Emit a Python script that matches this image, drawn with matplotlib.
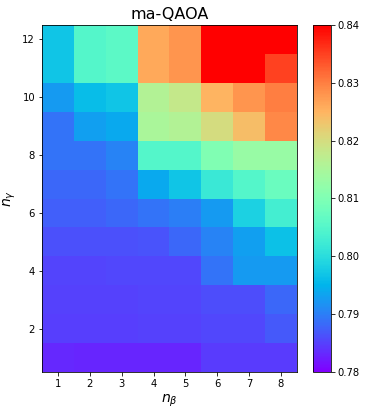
import numpy as np
import matplotlib
matplotlib.use("Agg")
import matplotlib.pyplot as plt

n_beta = [1, 2, 3, 4, 5, 6, 7, 8]
n_gamma = [1, 2, 3, 4, 5, 6, 7, 8, 9, 10, 11, 12]

# rows: n_gamma = 1 .. 12, columns: n_beta = 1 .. 8
ratio = [
    [0.7832, 0.7830, 0.7830, 0.7830, 0.7830, 0.7845, 0.7845, 0.7845],
    [0.7848, 0.7848, 0.7848, 0.7850, 0.7850, 0.7855, 0.7855, 0.7870],
    [0.7850, 0.7850, 0.7850, 0.7852, 0.7852, 0.7860, 0.7860, 0.7880],
    [0.7852, 0.7852, 0.7855, 0.7855, 0.7855, 0.7890, 0.7925, 0.7925],
    [0.7862, 0.7862, 0.7862, 0.7865, 0.7880, 0.7905, 0.7930, 0.7965],
    [0.7875, 0.7875, 0.7880, 0.7890, 0.7900, 0.7925, 0.7985, 0.8030],
    [0.7880, 0.7880, 0.7890, 0.7940, 0.7970, 0.8020, 0.8050, 0.8075],
    [0.7890, 0.7890, 0.7905, 0.8050, 0.8050, 0.8100, 0.8130, 0.8130],
    [0.7890, 0.7930, 0.7940, 0.8150, 0.8160, 0.8200, 0.8240, 0.8290],
    [0.7925, 0.7960, 0.7970, 0.8160, 0.8180, 0.8250, 0.8280, 0.8300],
    [0.7970, 0.8050, 0.8060, 0.8260, 0.8280, 0.8410, 0.8410, 0.8350],
    [0.7970, 0.8050, 0.8060, 0.8260, 0.8280, 0.8410, 0.8410, 0.8410],
]

fig = plt.figure(figsize=(366 / 72, 417 / 72), dpi=72)
ax = fig.add_axes([0.115, 0.108, 0.696, 0.832])
cax = fig.add_axes([0.855, 0.108, 0.049, 0.832])

im = ax.imshow(np.array(ratio), cmap="rainbow", vmin=0.78, vmax=0.84,
               origin="lower", aspect="auto",
               extent=[0.5, len(n_beta) + 0.5, 0.5, len(n_gamma) + 0.5])
ax.set_xticks(n_beta)
ax.set_yticks([2, 4, 6, 8, 10, 12])
ax.set_xlabel(r"$n_\beta$", fontsize=14)
ax.set_ylabel(r"$n_\gamma$", fontsize=14)
ax.set_title("ma-QAOA", fontsize=16)

cb = fig.colorbar(im, cax=cax)
cb.set_ticks([0.78, 0.79, 0.80, 0.81, 0.82, 0.83, 0.84])

fig.savefig("out.png", dpi=72)
